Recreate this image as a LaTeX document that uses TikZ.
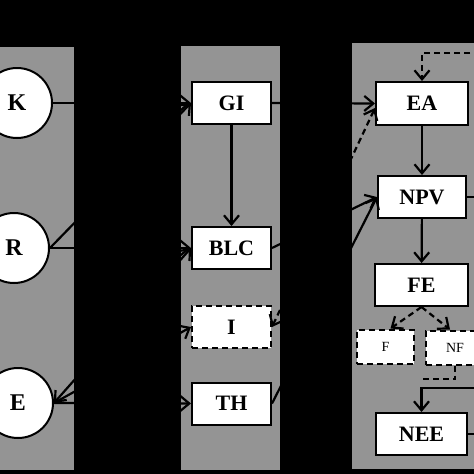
\documentclass[tikz,border=0pt]{standalone}
\usepackage{fontspec}
\setmainfont{Liberation Serif}
\usetikzlibrary{arrows.meta}

\definecolor{panelgray}{RGB}{148,148,148}
\tikzset{
  factor/.style={circle,draw,fill=white,line width=2pt,minimum size=70pt,inner sep=0pt,font=\bfseries\fontsize{24}{26}\selectfont},
  stage/.style={draw,fill=white,line width=2pt,minimum width=79pt,minimum height=42pt,inner sep=0pt,font=\bfseries\fontsize{22}{24}\selectfont},
  dashbox/.style={dash pattern=on 6pt off 4pt},
  smallstage/.style={draw,fill=white,line width=2pt,dash pattern=on 6pt off 4pt,minimum width=57pt,minimum height=34pt,inner sep=0pt,font=\fontsize{14}{16}\selectfont}
}

\begin{document}
\begin{tikzpicture}[x=1pt,y=-1pt,>={Straight Barb[length=9pt,width=15pt]},
  link/.style={line width=2.2pt},
  dlink/.style={line width=2.2pt,dash pattern=on 6pt off 4pt}]
\useasboundingbox (0,0) rectangle (474,474);
\clip (0,0) rectangle (474,474);
\fill[black] (0,0) rectangle (474,474);
% panels
\fill[panelgray] (0,47) rectangle (74,470);
\fill[panelgray] (181,46) rectangle (280,470);
\fill[panelgray] (352,43) rectangle (480,469);
% left column
\node[factor] (K) at (17,103) {K};
\node[factor] (R) at (14,248) {R};
\node[factor] (E) at (18,403) {E};
% middle column
\node[stage] (GI) at (231.5,103) {GI};
\node[stage] (BLC) at (231.5,248) {BLC};
\node[stage,dashbox] (I) at (231.5,327) {I};
\node[stage] (TH) at (231.5,403.5) {TH};
% right column
\node[stage,minimum width=92pt,minimum height=43pt] (EA) at (422,103.5) {EA};
\node[stage,minimum width=88pt] (NPV) at (422,197) {NPV};
\node[stage,minimum width=93pt] (FE) at (421.5,285) {FE};
\node[smallstage] (F) at (385.5,346.5) {F};
\node[smallstage,minimum width=58pt] (NF) at (455,347.5) {NF};
\node[stage,minimum width=91pt] (NEE) at (421.5,434) {NEE};
% loose ends outside the crop
\coordinate (topin) at (480,53);
\coordinate (npvout) at (480,197);
\coordinate (nfend) at (422,379);
\coordinate (neein) at (480,388);
\coordinate (neeout) at (480,434);

% links
\draw[link,->] (K) -- (GI);
\draw[link,->] (R.east) -- (GI.west);
\draw[link,->] (R.east) -- (BLC.west);
\draw[link,<->] (E.east) -- (BLC.west);
\draw[link,->] (E.east) -- (I.west);
\draw[link,->] (E.east) -- (TH.west);
\draw[link,->] (GI) -- (BLC);
\draw[link,->] (GI.east) -- (EA.west);
\draw[link,->] (BLC.east) -- (NPV.west);
\draw[link,->] (TH.east) -- (NPV.west);
\draw[dlink,<->] (I.east) -- ([yshift=-4.5pt]EA.west);
\draw[dlink,->] (topin) -| (EA.north);
\draw[link,->] (EA) -- (NPV);
\draw[link] (NPV.east) -- (npvout);
\draw[link,->] (NPV) -- (FE);
\draw[dlink,->] (FE.south) -- ([xshift=5pt]F.north);
\draw[dlink,->] (FE.south) -- ([xshift=-5pt]NF.north);
\draw[dlink] (NF.south) |- (nfend);
\draw[link,->] (neein) -| (NEE.north);
\draw[link] (NEE.east) -- (neeout);
\end{tikzpicture}
\end{document}
